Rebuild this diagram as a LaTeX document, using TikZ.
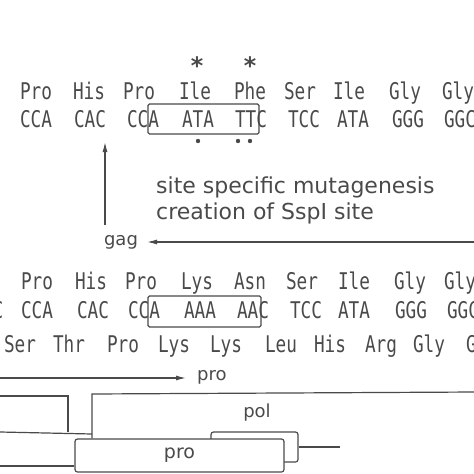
\documentclass[tikz,border=0pt]{standalone}
\usepackage{fontspec}
\newfontfamily\seqfont[FakeStretch=0.77]{DejaVu Sans Mono}
\newfontfamily\starfont{DejaVu Sans Mono Bold}
\newfontfamily\txtfont{DejaVu Sans}
\usetikzlibrary{arrows.meta}
\definecolor{ink}{HTML}{4A4A4A}
\begin{document}
\begin{tikzpicture}[x=1pt,y=-1pt,
  seq/.style={font=\seqfont\fontsize{23}{23}\selectfont, text=ink, inner sep=0pt, anchor=base},
  lbl/.style={font=\txtfont\fontsize{18}{18}\selectfont, text=ink, inner sep=0pt},
  note/.style={font=\txtfont\fontsize{22}{22}\selectfont, text=ink, inner sep=0pt, anchor=base west},
  star/.style={font=\starfont\fontsize{24}{24}\selectfont, text=ink, inner sep=0pt},
  dotmark/.style={circle, fill=ink, inner sep=0pt, minimum size=4.4pt},
  ln/.style={draw=ink, line width=1.2pt},
  arr/.style={ln, -{Latex[length=10pt,width=5pt]}},
  seqbox/.style={draw=ink, line width=1.1pt, rounded corners=1.5pt},
  genebox/.style={draw=ink, line width=1.2pt, rounded corners=2.5pt, inner sep=0pt},
]
\useasboundingbox (0,0) rectangle (474,474);
\begin{scope}
\clip (0,0) rectangle (474,474);
% row 1: mutated amino acids
\foreach \t/\x [count=\i] in {Pro/36,His/89,Pro/139,Ile/195,Phe/250,Ser/300,Ile/349,Gly/405,Gly/458}
  \node[seq] (aa\i) at (\x,99) {\t};
\node[star] (st1) at (197,66) {*};
\node[star] (st2) at (250,66) {*};
% row 1 codons
\foreach \t/\x [count=\i] in {CCA/36,CAC/90,CCA/143,ATA/198,TTC/251,TCC/304,ATA/353,GGG/408,GGC/460}
  \node[seq] (ca\i) at (\x,127) {\t};
\draw[seqbox] (148,104) rectangle (259,134);
\node[dotmark] (d1) at (198,141) {};
\node[dotmark] (d2) at (238,141) {};
\node[dotmark] (d3) at (250,141) {};
% mutagenesis
\coordinate (upB) at (105,225);
\coordinate (upT) at (105,142);
\draw[arr] (upB) -- (upT);
\node[note] (n1) at (156,193) {site specific mutagenesis};
\node[note] (n2) at (156,219) {creation of SspI site};
\node[lbl] (gag) at (121,242) {gag};
\coordinate (gagR) at (476,242);
\coordinate (gagT) at (147,242);
\draw[arr] (gagR) -- (gagT);
% row 2: wild type
\foreach \t/\x [count=\i] in {Pro/37,His/91,Pro/141,Lys/197,Asn/250,Ser/302,Ile/354,Gly/410,Gly/460}
  \node[seq] (ab\i) at (\x,289) {\t};
\node[seq] (cb0) at (-2,318) {C};
\foreach \t/\x [count=\i] in {CCA/37,CAC/93,CCA/144,AAA/200,AAC/253,TCC/306,ATA/354,GGG/411,GGC/463}
  \node[seq] (cb\i) at (\x,318) {\t};
\draw[seqbox] (148,296) rectangle (261,327);
% row 3: other frame
\foreach \t/\x [count=\i] in {Ser/20,Thr/69,Pro/123,Lys/174,Lys/226,Leu/281,His/330,Arg/381,Gly/429,Gly/482}
  \node[seq] (ac\i) at (\x,352) {\t};
% genome map
\coordinate (prL) at (0,378);
\coordinate (prR) at (186,378);
\draw[arr] (prL) -- (prR);
\node[lbl, anchor=west] (pro1) at (197,377) {pro};
\coordinate (lbA) at (0,396);
\coordinate (lbB) at (68,396);
\coordinate (lbC) at (68,432);
\coordinate (lbD) at (0,432);
\coordinate (lbE) at (92,434);
\draw[ln] (lbA) -- (lbB) -- (lbC);
\draw[ln] (lbD) -- (lbE);
\coordinate (ltop) at (92,394);
\coordinate (rtop) at (476,392);
\node[genebox, minimum width=87pt, minimum height=30pt] (polbox) at (254.5,447) {};
\node[lbl] (pol) at (257,413) {pol};
\coordinate (polR) at (340,447);
\draw[ln] (polbox.east) -- (polR);
\node[genebox, fill=white, minimum width=209pt, minimum height=33pt,
      font=\txtfont\fontsize{19}{19}\selectfont, text=ink] (probox) at (179.5,455.5) {pro};
\draw[ln] (probox.north west -| lbE) -- (ltop) -- (rtop);
\coordinate (pl) at (0,466);
\draw[ln] (pl) -- (pl -| probox.west);
\end{scope}
\end{tikzpicture}
\end{document}
